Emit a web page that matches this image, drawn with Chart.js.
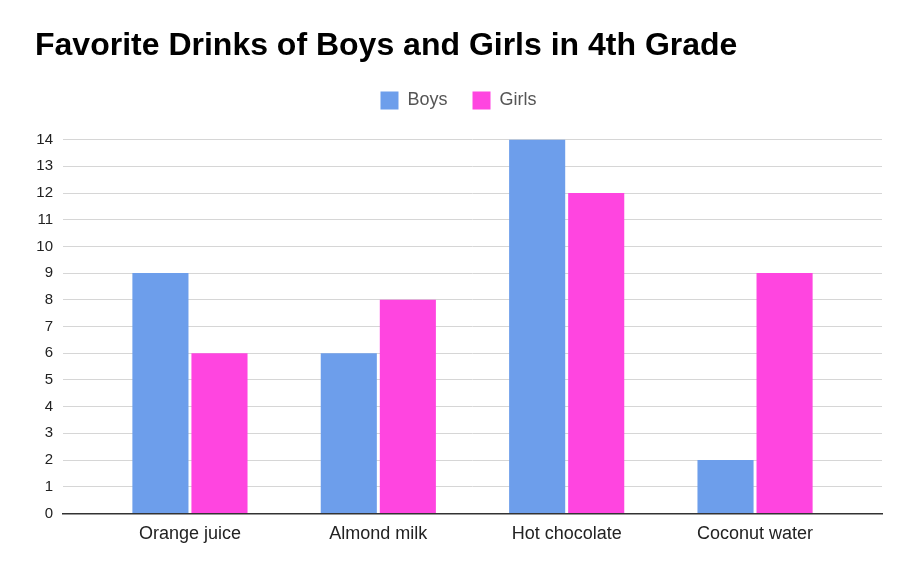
<!DOCTYPE html>
<html>
<head>
<meta charset="utf-8">
<script src="https://cdn.jsdelivr.net/npm/chart.js@4/dist/chart.umd.min.js"></script>
<style>
html,body{margin:0;padding:0;background:#fff;}
#wrap{width:912px;height:567px;}
</style>
</head>
<body>
<div id="wrap"><canvas id="c" width="912" height="567"></canvas></div>
<script>
const chartTitle = "Favorite Drinks of Boys and Girls in 4th Grade";
const categories = ["Orange juice", "Almond milk", "Hot chocolate", "Coconut water"];
const seriesNames = ["Boys", "Girls"];
const boys = [9, 6, 14, 2];
const girls = [6, 8, 12, 9];
const yTicks = [0,1,2,3,4,5,6,7,8,9,10,11,12,13,14];

const FONT = "'Liberation Sans', Arial, sans-serif";
const toPts = arr => arr.map((v, i) => ({x: i, y: v}));

new Chart(document.getElementById('c'), {
  type: 'bar',
  data: {
    datasets: [
      {label: seriesNames[0], data: toPts(boys), backgroundColor: '#6d9eeb', categoryPercentage: 0.627, barPercentage: 0.95},
      {label: seriesNames[1], data: toPts(girls), backgroundColor: '#ff45e0', categoryPercentage: 0.627, barPercentage: 0.95}
    ]
  },
  options: {
    responsive: false,
    animation: false,
    devicePixelRatio: 1,
    layout: {padding: {left: 35, right: 30, top: 27, bottom: 20}},
    plugins: {
      tooltip: {enabled: false},
      title: {
        display: true, text: chartTitle, align: 'start', color: '#000',
        font: {family: FONT, size: 32, weight: 'bold'},
        padding: {top: 0, bottom: 1}
      },
      subtitle: {
        display: true, text: '', position: 'top', weight: 500,
        font: {size: 1}, padding: {top: 0, bottom: 19}
      },
      legend: {
        display: true, position: 'top', align: 'center',
        labels: {
          boxWidth: 18, boxHeight: 18, padding: 25, color: '#555',
          font: {family: FONT, size: 18}
        }
      }
    },
    scales: {
      x: {
        type: 'linear',
        offset: false,
        min: -0.674, max: 3.674,
        afterBuildTicks: s => { s.ticks = categories.map((c, i) => ({value: i})); },
        ticks: {
          autoSkip: false, maxRotation: 0, color: '#222', padding: 2,
          font: {family: FONT, size: 18},
          callback: v => categories[v]
        },
        grid: {display: false},
        border: {display: true, color: '#333', width: 1.5}
      },
      y: {
        min: 0, max: 14,
        afterBuildTicks: s => { s.ticks = yTicks.map(v => ({value: v})); },
        afterFit: s => { s.width = 28; },
        ticks: {color: '#222', padding: 10, font: {family: FONT, size: 15}},
        grid: {color: '#d6d6d6', lineWidth: 1, drawTicks: false},
        border: {display: false}
      }
    }
  }
});
</script>
</body>
</html>
